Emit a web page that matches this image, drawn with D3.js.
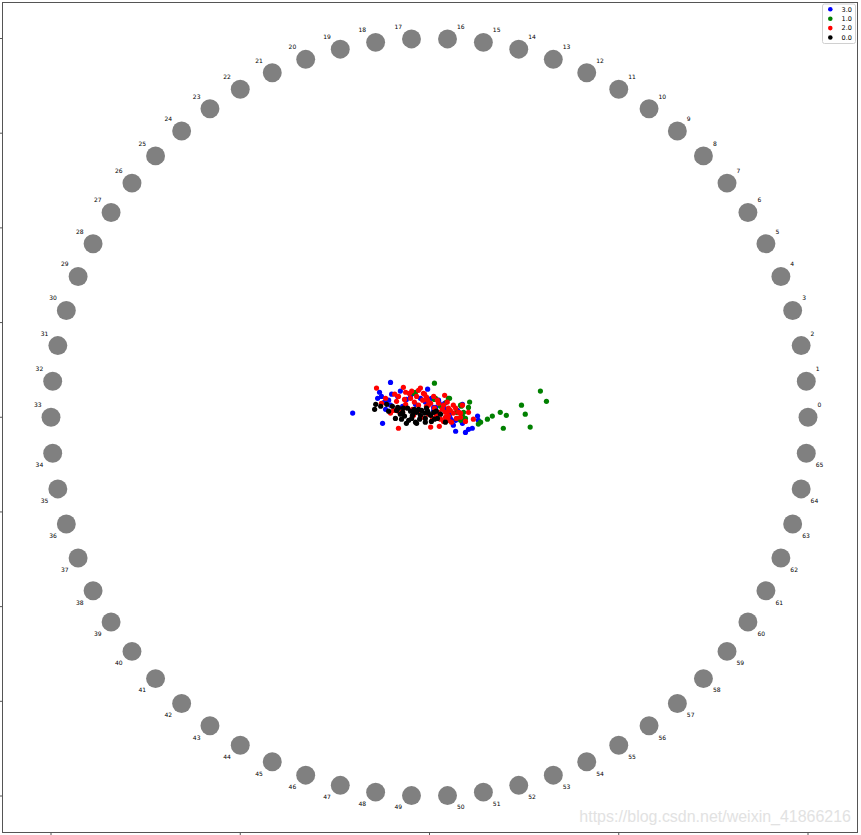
<!DOCTYPE html>
<html>
<head>
<meta charset="utf-8">
<script src="https://cdn.jsdelivr.net/npm/d3@7"></script>
<style>
  html, body { margin: 0; padding: 0; background: #fff; }
  svg { display: block; }
</style>
</head>
<body>
<svg id="chart" width="861" height="835"></svg>
<script>
// ---- data (RadViz projected coordinates) ----
const anchorNames = d3.range(66).map(String);
const classOrder = ["3.0", "1.0", "2.0", "0.0"];
const classColors = ["#0000ff", "#008000", "#ff0000", "#000000"];

const class3 = [[-0.203,0.011],[-0.103,0.092],[-0.132,0.066],[-0.137,0.050],[-0.127,0.055],[-0.077,0.069],[-0.084,0.055],[-0.100,0.061],[-0.119,0.040],[-0.103,0.032],[-0.124,-0.016],[-0.116,0.021],[-0.061,0.047],[-0.037,0.034],[-0.024,0.050],[-0.005,0.074],[0.040,0.037],[0.045,0.021],[0.087,0.034],[0.063,-0.021],[0.069,-0.037],[0.095,-0.040],[0.103,-0.032],[0.113,-0.029],[0.127,0.003],[0.129,-0.008],[0.077,0.013],[0.016,0.026],[0.026,0.037],[0.037,0.032],[-0.050,0.055],[0.011,0.018],[0.053,0.008],[-0.011,0.040],[-0.029,0.016],[0.082,-0.003],[-0.108,0.045],[-0.071,0.029],[0.005,0.050],[0.058,-0.008],[0.011,0.026],[0.016,0.013],[0.055,-0.003],[0.069,-0.008],[0.074,0.018],[0.087,-0.016],[0.024,0.045]];
const class1 = [[0.013,0.090],[0.293,0.069],[0.309,0.042],[0.243,0.032],[0.253,0.008],[0.203,0.005],[0.187,0.013],[0.166,0.003],[0.153,-0.005],[0.135,-0.013],[0.195,-0.029],[0.266,-0.026],[0.106,0.040],[0.103,0.026],[0.084,0.029],[0.053,0.050],[0.095,-0.003],[0.082,-0.008],[-0.040,0.063],[0.013,0.047],[0.045,0.040],[0.090,0.013],[0.071,0.013],[0.077,-0.003],[0.087,0.003],[0.050,0.018],[0.029,0.029],[0.129,-0.018],[-0.037,0.066],[0.016,0.050],[0.050,0.050],[0.082,0.032],[0.074,-0.003]];
const class2 = [[-0.140,0.077],[-0.127,0.037],[-0.103,0.011],[-0.087,0.042],[-0.082,0.016],[-0.095,0.018],[-0.082,0.055],[-0.092,0.061],[-0.047,0.069],[-0.016,0.063],[0.003,-0.026],[0.026,-0.024],[0.116,-0.005],[0.047,0.040],[0.063,0.032],[0.047,0.013],[0.103,0.013],[0.071,-0.003],[0.058,-0.013],[-0.013,0.061],[-0.050,0.050],[-0.040,0.040],[-0.029,0.032],[-0.018,0.045],[-0.008,0.029],[0.003,0.037],[0.013,0.024],[0.024,0.013],[0.034,0.021],[0.018,0.003],[0.029,-0.005],[0.042,0.000],[-0.045,0.021],[-0.063,0.034],[-0.071,0.013],[-0.034,0.055],[-0.024,0.018],[-0.003,0.008],[0.008,-0.003],[0.055,0.018],[0.069,0.024],[0.082,0.011],[0.037,-0.011],[0.050,0.003],[-0.053,0.063],[-0.029,0.071],[-0.066,0.047],[-0.116,0.050],[0.021,0.045],[-0.008,0.053],[0.095,-0.011],[0.040,0.058],[-0.021,0.000],[-0.042,0.005],[-0.069,0.079],[-0.005,0.045],[-0.003,0.032],[0.024,0.037],[0.037,0.032],[0.042,0.013],[0.050,0.024],[0.063,0.011],[0.077,0.013],[0.082,0.000],[0.087,0.032],[0.050,-0.008],[-0.082,-0.029],[0.011,0.055],[-0.024,0.077],[-0.063,0.066]];
const class0 = [[-0.142,0.034],[-0.145,0.021],[-0.090,-0.003],[-0.071,0.013],[-0.058,0.024],[-0.045,0.005],[-0.037,-0.013],[-0.024,0.005],[-0.011,-0.003],[-0.034,-0.016],[-0.011,-0.013],[0.013,-0.005],[0.042,-0.013],[-0.003,0.011],[0.003,0.005],[0.021,-0.003],[-0.082,0.024],[-0.098,0.029],[-0.113,0.034],[-0.066,0.003],[-0.055,-0.008],[-0.077,0.008],[-0.029,0.021],[-0.042,0.013],[-0.021,0.018],[-0.050,0.016],[-0.005,0.016],[0.011,0.013],[0.029,0.008],[-0.026,-0.005],[-0.047,-0.003],[-0.087,0.018],[-0.108,0.016],[-0.129,0.029],[-0.069,0.024],[-0.013,0.011],[-0.034,0.013],[-0.061,-0.016],[0.005,-0.011],[-0.084,0.026],[-0.040,0.021],[-0.008,0.024],[0.018,0.016],[-0.074,-0.005]];
const classPoints = [class3, class1, class2, class0];

const xTicks = [-1, -0.5, 0, 0.5, 1];
const yTicks = [-1, -0.75, -0.5, -0.25, 0, 0.25, 0.5, 0.75, 1];
const watermark = "https://blog.csdn.net/weixin_41866216";

// ---- layout ----
const svg = d3.select("#chart");
const frame = {left: 2.5, right: 857.5, top: 2.5, bottom: 832.5};
const x = d3.scaleLinear().domain([-1, 1]).range([51, 808]);
const y = d3.scaleLinear().domain([-1, 1]).range([796, 38.5]);
const unit = x(1) - x(0);
const anchorR = 0.025;

// watermark (behind), sized to its measured width
const wm = svg.append("text")
  .attr("x", 851).attr("y", 822)
  .attr("text-anchor", "end")
  .attr("font-family", "Liberation Sans Narrow, Liberation Sans, Arial, sans-serif")
  .attr("font-size", 17)
  .attr("fill", "#e2e2e2")
  .text(watermark);
const wmLen = wm.node().getComputedTextLength();
if (wmLen > 272) wm.attr("font-size", 17 * 272 / wmLen);

// anchors
const anchors = anchorNames.map((name, i) => {
  const t = 2 * Math.PI * i / anchorNames.length;
  return {name, ax: Math.cos(t), ay: Math.sin(t)};
});
const ag = svg.append("g");
ag.selectAll("circle").data(anchors).join("circle")
  .attr("cx", d => x(d.ax)).attr("cy", d => y(d.ay))
  .attr("r", anchorR * unit)
  .attr("fill", "#808080");
ag.selectAll("text").data(anchors).join("text")
  .attr("x", d => x(d.ax + (d.ax < 0 ? -anchorR : anchorR)))
  .attr("y", d => y(d.ay + (d.ay < 0 ? -anchorR : anchorR)))
  .attr("text-anchor", d => d.ax < 0 ? "end" : "start")
  .attr("dy", d => d.ay < 0 ? "0.72em" : "-0.1em")
  .attr("font-family", "DejaVu Sans, sans-serif")
  .attr("font-size", 6)
  .attr("fill", "#000")
  .text(d => d.name);

// points
classPoints.forEach((pts, ci) => {
  svg.append("g").selectAll("circle").data(pts).join("circle")
    .attr("cx", d => x(d[0])).attr("cy", d => y(d[1]))
    .attr("r", 2.6)
    .attr("fill", classColors[ci]);
});

// frame
svg.append("rect")
  .attr("x", frame.left).attr("y", frame.top)
  .attr("width", frame.right - frame.left).attr("height", frame.bottom - frame.top)
  .attr("fill", "none").attr("stroke", "#555").attr("stroke-width", 1);

// ticks
svg.append("g").selectAll("line").data(xTicks).join("line")
  .attr("x1", d => x(d)).attr("x2", d => x(d))
  .attr("y1", frame.bottom).attr("y2", frame.bottom + 3.5)
  .attr("stroke", "#555").attr("stroke-width", 1);
svg.append("g").selectAll("line").data(yTicks).join("line")
  .attr("y1", d => y(d)).attr("y2", d => y(d))
  .attr("x1", frame.left).attr("x2", frame.left - 3.5)
  .attr("stroke", "#555").attr("stroke-width", 1);

// legend
const lg = svg.append("g");
lg.append("rect")
  .attr("x", 822.5).attr("y", 4).attr("width", 33).attr("height", 39.5)
  .attr("rx", 2).attr("fill", "#fff").attr("fill-opacity", 0.8)
  .attr("stroke", "#d0d0d0").attr("stroke-width", 1);
classOrder.forEach((c, i) => {
  const yy = 9.3 + i * 9.4;
  lg.append("circle").attr("cx", 830.3).attr("cy", yy).attr("r", 2.3).attr("fill", classColors[i]);
  lg.append("text").attr("x", 841.5).attr("y", yy).attr("dy", "0.35em")
    .attr("font-family", "DejaVu Sans, sans-serif").attr("font-size", 6.5)
    .attr("fill", "#000").text(c);
});
</script>
</body>
</html>
